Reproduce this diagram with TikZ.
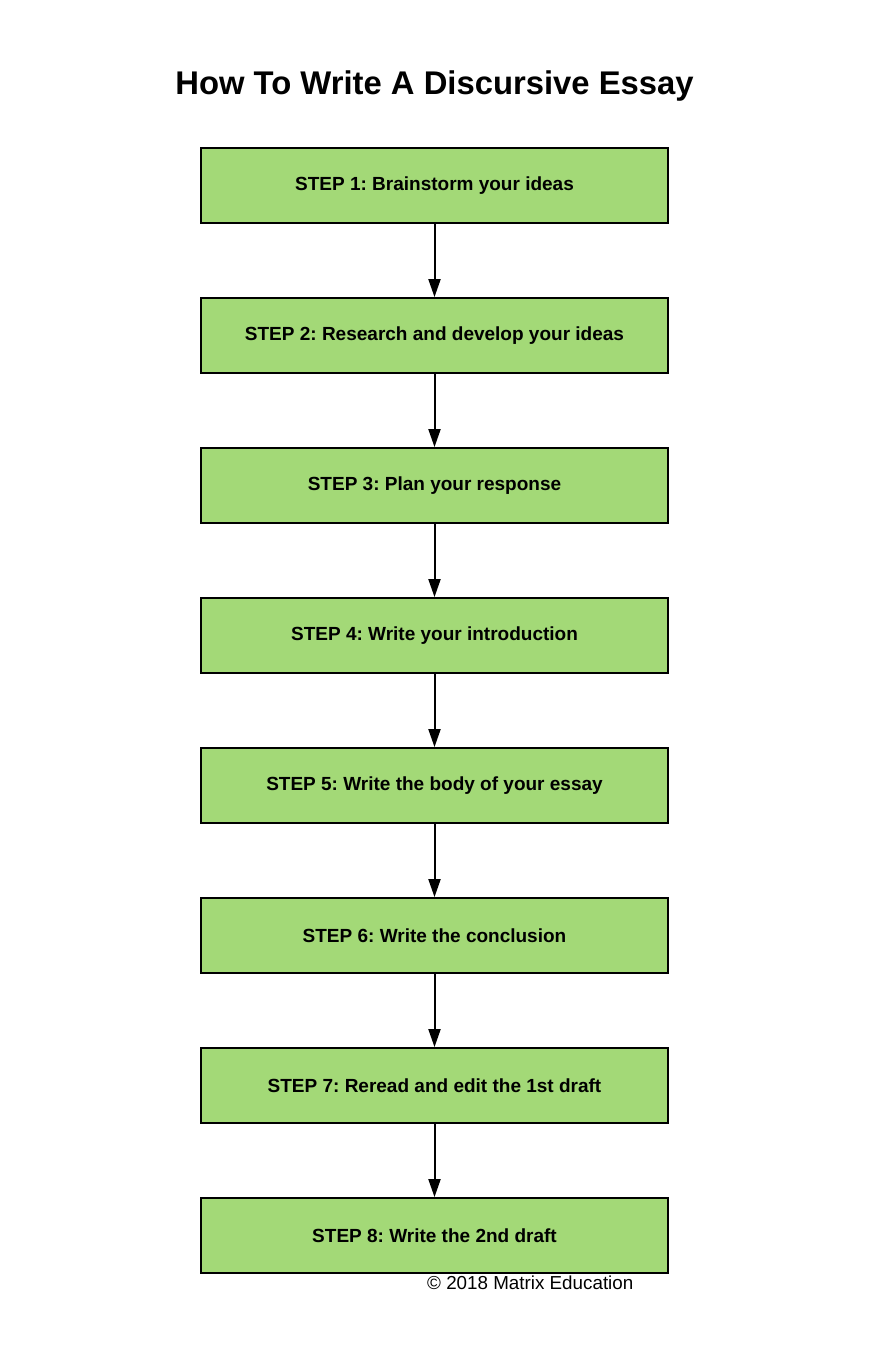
\documentclass[tikz,border=0pt]{standalone}
\usepackage{fontspec}
\setmainfont{Liberation Sans}
\usetikzlibrary{arrows.meta}
\definecolor{boxgreen}{HTML}{A3D977}
\frenchspacing
\begin{document}
\begin{tikzpicture}[x=1pt,y=-1pt,
  stepbox/.style={draw=black,line width=1.8pt,fill=boxgreen,minimum width=467pt,minimum height=75pt,inner sep=0pt,font=\fontsize{19}{22}\selectfont\bfseries},
  conn/.style={line width=2pt,-{Triangle[length=18pt,width=12pt]}}]
\useasboundingbox[fill=white] (0,0) rectangle (870,1359);
\node[font=\fontsize{32.8}{38}\selectfont\bfseries] (title) at (434.5,86) {How To Write A Discursive Essay};
\node[stepbox] (s1) at (434.5,185.5) {STEP 1: Brainstorm your ideas};
\node[stepbox] (s2) at (434.5,335.5) {STEP 2: Research and develop your ideas};
\node[stepbox] (s3) at (434.5,485.5) {STEP 3: Plan your response};
\node[stepbox] (s4) at (434.5,635.5) {STEP 4: Write your introduction};
\node[stepbox] (s5) at (434.5,785.5) {STEP 5: Write the body of your essay};
\node[stepbox] (s6) at (434.5,935.5) {STEP 6: Write the conclusion};
\node[stepbox] (s7) at (434.5,1085.5) {STEP 7: Reread and edit the 1st draft};
\node[stepbox] (s8) at (434.5,1235.5) {STEP 8: Write the 2nd draft};
\foreach \a/\b in {s1/s2,s2/s3,s3/s4,s4/s5,s5/s6,s6/s7,s7/s8}
  \draw[conn] (\a.south) -- (\b.north);
\node[font=\fontsize{18.8}{21}\selectfont,anchor=base west,inner sep=0pt] (copy) at (427,1289) {© 2018 Matrix Education};
\end{tikzpicture}
\end{document}
